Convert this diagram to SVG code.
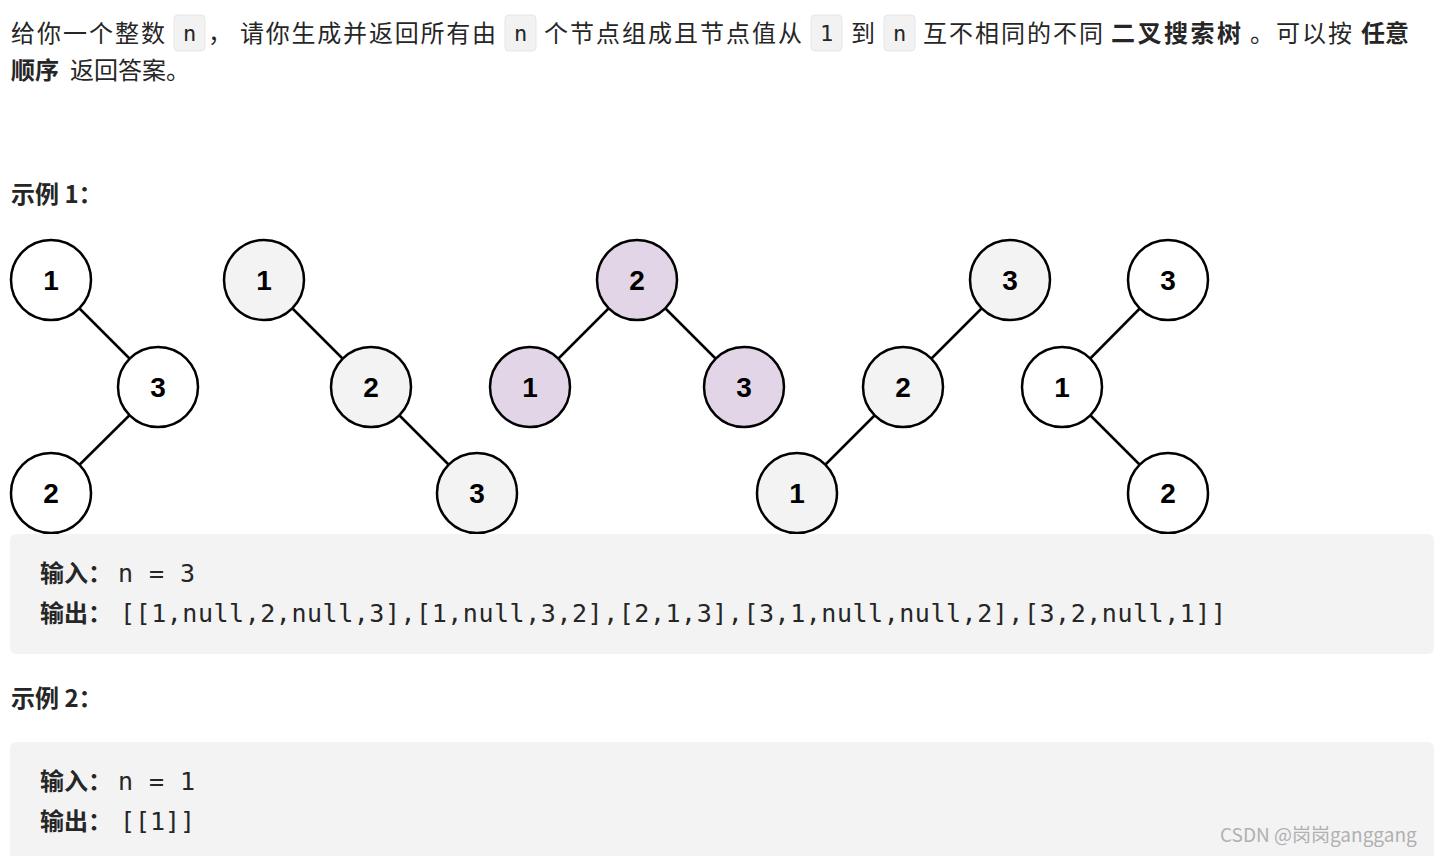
<svg xmlns="http://www.w3.org/2000/svg" width="1434" height="856" viewBox="0 0 1434 856">
<style>
.t{font-family:"Noto Sans CJK SC","Noto Sans",sans-serif;font-size:24px;fill:#262626}
.b{font-weight:bold}
.c{font-family:"DejaVu Sans Mono","Liberation Mono",monospace;font-size:22px;fill:#262626}
.cb{fill:#f2f2f3;stroke:#e6e6e8;stroke-width:1}
.m{font-family:"DejaVu Sans Mono","Liberation Mono","Noto Sans CJK SC",monospace;font-size:25px;fill:#262626}
.mb{font-family:"Noto Sans CJK SC",sans-serif;font-weight:bold;font-size:24px;fill:#262626}
.n circle{stroke:#000;stroke-width:2.5}
.n text{font-family:"Liberation Sans",Arial,sans-serif;font-weight:bold;font-size:28px;text-anchor:middle;fill:#000}
.w{fill:#fff}.g{fill:#f3f3f3}.p{fill:#e1d5e7}
#edges line{stroke:#000;stroke-width:2.5}
</style>
<rect width="1434" height="856" fill="#fff"/>
<g id="text-intro">
<text class="t" x="11" y="42" textLength="154">给你一个整数</text>
<rect class="cb" x="174" y="15" width="31" height="36" rx="4"/><text class="c" x="189.5" y="41" text-anchor="middle">n</text>
<text class="t" x="208" y="42">，</text>
<text class="t" x="240" y="42" textLength="256">请你生成并返回所有由</text>
<rect class="cb" x="505" y="15" width="31" height="36" rx="4"/><text class="c" x="520.5" y="41" text-anchor="middle">n</text>
<text class="t" x="544" y="42" textLength="258">个节点组成且节点值从</text>
<rect class="cb" x="811" y="15" width="31" height="36" rx="4"/><text class="c" x="826.5" y="41" text-anchor="middle">1</text>
<text class="t" x="851" y="42">到</text>
<rect class="cb" x="884" y="15" width="31" height="36" rx="4"/><text class="c" x="899.5" y="41" text-anchor="middle">n</text>
<text class="t" x="923" y="42" textLength="180">互不相同的不同</text>
<text class="t b" x="1111" y="42" textLength="130">二叉搜索树</text>
<text class="t" x="1250" y="42" textLength="102">。可以按</text>
<text class="t b" x="1361" y="42">任意</text>
<text class="t b" x="11" y="79">顺序</text>
<text class="t" x="70" y="79">返回答案。</text>
<text class="t b" x="11" y="203">示例 1：</text>
<text class="t b" x="11" y="707">示例 2：</text>
</g>
<g id="edges">
<line x1="51" y1="280" x2="158" y2="387"/><line x1="158" y1="387" x2="51" y2="493"/>
<line x1="264" y1="280" x2="371" y2="387"/><line x1="371" y1="387" x2="477" y2="493"/>
<line x1="637" y1="280" x2="530" y2="387"/><line x1="637" y1="280" x2="744" y2="387"/>
<line x1="1010" y1="280" x2="903" y2="387"/><line x1="903" y1="387" x2="797" y2="493"/>
<line x1="1168" y1="280" x2="1062" y2="387"/><line x1="1062" y1="387" x2="1168" y2="493"/>
</g>
<g id="t1a" class="n"><circle class="w" cx="51" cy="280" r="40"/><text x="51" y="290">1</text></g>
<g id="t1b" class="n"><circle class="w" cx="158" cy="387" r="40"/><text x="158" y="397">3</text></g>
<g id="t1c" class="n"><circle class="w" cx="51" cy="493" r="40"/><text x="51" y="503">2</text></g>
<g id="t2a" class="n"><circle class="g" cx="264" cy="280" r="40"/><text x="264" y="290">1</text></g>
<g id="t2b" class="n"><circle class="g" cx="371" cy="387" r="40"/><text x="371" y="397">2</text></g>
<g id="t2c" class="n"><circle class="g" cx="477" cy="493" r="40"/><text x="477" y="503">3</text></g>
<g id="t3a" class="n"><circle class="p" cx="637" cy="280" r="40"/><text x="637" y="290">2</text></g>
<g id="t3b" class="n"><circle class="p" cx="530" cy="387" r="40"/><text x="530" y="397">1</text></g>
<g id="t3c" class="n"><circle class="p" cx="744" cy="387" r="40"/><text x="744" y="397">3</text></g>
<g id="t4a" class="n"><circle class="g" cx="1010" cy="280" r="40"/><text x="1010" y="290">3</text></g>
<g id="t4b" class="n"><circle class="g" cx="903" cy="387" r="40"/><text x="903" y="397">2</text></g>
<g id="t4c" class="n"><circle class="g" cx="797" cy="493" r="40"/><text x="797" y="503">1</text></g>
<g id="t5a" class="n"><circle class="w" cx="1168" cy="280" r="40"/><text x="1168" y="290">3</text></g>
<g id="t5b" class="n"><circle class="w" cx="1062" cy="387" r="40"/><text x="1062" y="397">1</text></g>
<g id="t5c" class="n"><circle class="w" cx="1168" cy="493" r="40"/><text x="1168" y="503">2</text></g>
<g id="ex1">
<rect x="10" y="534" width="1424" height="120" rx="6" fill="#f3f3f4"/>
<text class="mb" x="40" y="582">输入：</text><text class="m" x="118" y="582" textLength="77">n = 3</text>
<text class="mb" x="40" y="622">输出：</text><text class="m" x="120" y="622" textLength="1106">[[1,null,2,null,3],[1,null,3,2],[2,1,3],[3,1,null,null,2],[3,2,null,1]]</text>
</g>
<g id="ex2">
<rect x="10" y="742" width="1424" height="120" rx="6" fill="#f3f3f4"/>
<text class="mb" x="40" y="790">输入：</text><text class="m" x="118" y="790" textLength="77">n = 1</text>
<text class="mb" x="40" y="830">输出：</text><text class="m" x="120" y="830" textLength="75">[[1]]</text>
<text x="1220" y="842" font-family="Noto Sans CJK SC,sans-serif" font-size="19" fill="#b0b0b0">CSDN @岗岗ganggang</text>
</g>
</svg>
